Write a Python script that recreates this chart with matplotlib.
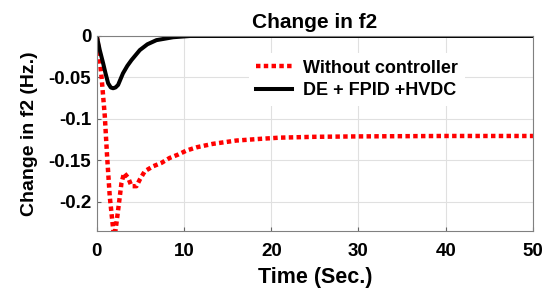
import matplotlib
matplotlib.use("Agg")
import matplotlib.pyplot as plt

plt.rcParams['font.family'] = ['Liberation Sans', 'DejaVu Sans']
plt.rcParams['font.weight'] = 'bold'

# Without controller
t_red = [0, 0.2, 0.54, 0.92, 1.18, 1.49, 1.8, 2.0, 2.26, 2.56, 2.83, 3.13, 3.6, 3.98,
         4.55, 4.93, 5.5, 6.46, 7.4, 8.35, 9.3, 10.3, 11.5, 13.3, 16, 18.7, 21, 25, 30, 40, 50]
f_red = [0, -0.015, -0.049, -0.097, -0.145, -0.194, -0.225, -0.245, -0.225, -0.2, -0.177,
         -0.165, -0.171, -0.181, -0.181, -0.173, -0.163, -0.157, -0.153, -0.147, -0.143,
         -0.138, -0.134, -0.130, -0.126, -0.124, -0.1225, -0.1215, -0.121, -0.1205, -0.1205]

# DE + FPID + HVDC
t_blk = [0, 0.34, 0.73, 1.0, 1.3, 1.6, 1.87, 2.15, 2.44, 3.0, 3.5, 3.98, 4.93, 5.8, 6.84,
         8.75, 10.7, 20, 30, 40, 50]
f_blk = [0, -0.017, -0.033, -0.045, -0.057, -0.062, -0.063, -0.062, -0.059, -0.045, -0.036,
         -0.029, -0.017, -0.010, -0.005, -0.0015, 0, 0, 0, 0, 0]

labels = ['Without controller', 'DE + FPID +HVDC']
x_ticks = [0, 10, 20, 30, 40, 50]
y_ticks = [-0.2, -0.15, -0.1, -0.05, 0]
y_tick_labels = ['-0.2', '-0.15', '-0.1', '-0.05', '0']

fig = plt.figure(figsize=(5.5, 2.95), dpi=100)
ax = fig.add_axes([0.176, 0.217, 0.793, 0.661])

ax.plot(t_red, f_red, color='red', linewidth=3.2, linestyle=(0, (1, 0.75)),
        dash_capstyle='butt', label=labels[0])
ax.plot(t_blk, f_blk, color='black', linewidth=2.9, label=labels[1])

ax.set_xlim(0, 50)
ax.set_ylim(-0.235, 0)
ax.set_xticks(x_ticks)
ax.set_yticks(y_ticks)
ax.set_yticklabels(y_tick_labels)
ax.tick_params(direction='in', labelsize=13.5, length=3, color='0.4')
ax.tick_params(axis='x', pad=9)
ax.tick_params(axis='y', pad=4)
for lbl in ax.get_xticklabels() + ax.get_yticklabels():
    lbl.set_fontweight('bold')
ax.grid(True, color='0.88', linewidth=0.8)
ax.set_axisbelow(True)
for s in ax.spines.values():
    s.set_color('0.5')
    s.set_linewidth(0.8)

ax.set_title('Change in f2', fontsize=15, fontweight='bold', pad=6)
ax.set_xlabel('Time (Sec.)', fontsize=15.5, fontweight='bold', labelpad=5)
ax.set_ylabel('Change in f2 (Hz.)', fontsize=14, fontweight='bold', labelpad=8)

leg = ax.legend(loc='upper right', bbox_to_anchor=(0.845, 0.915), frameon=True,
                fontsize=13, handlelength=2.0, handletextpad=0.6,
                borderaxespad=0, framealpha=1, labelspacing=0.28)
leg.get_frame().set_edgecolor('white')
leg.get_frame().set_linewidth(0)
for txt in leg.get_texts():
    txt.set_fontweight('bold')

fig.savefig('out.png', dpi=100)
